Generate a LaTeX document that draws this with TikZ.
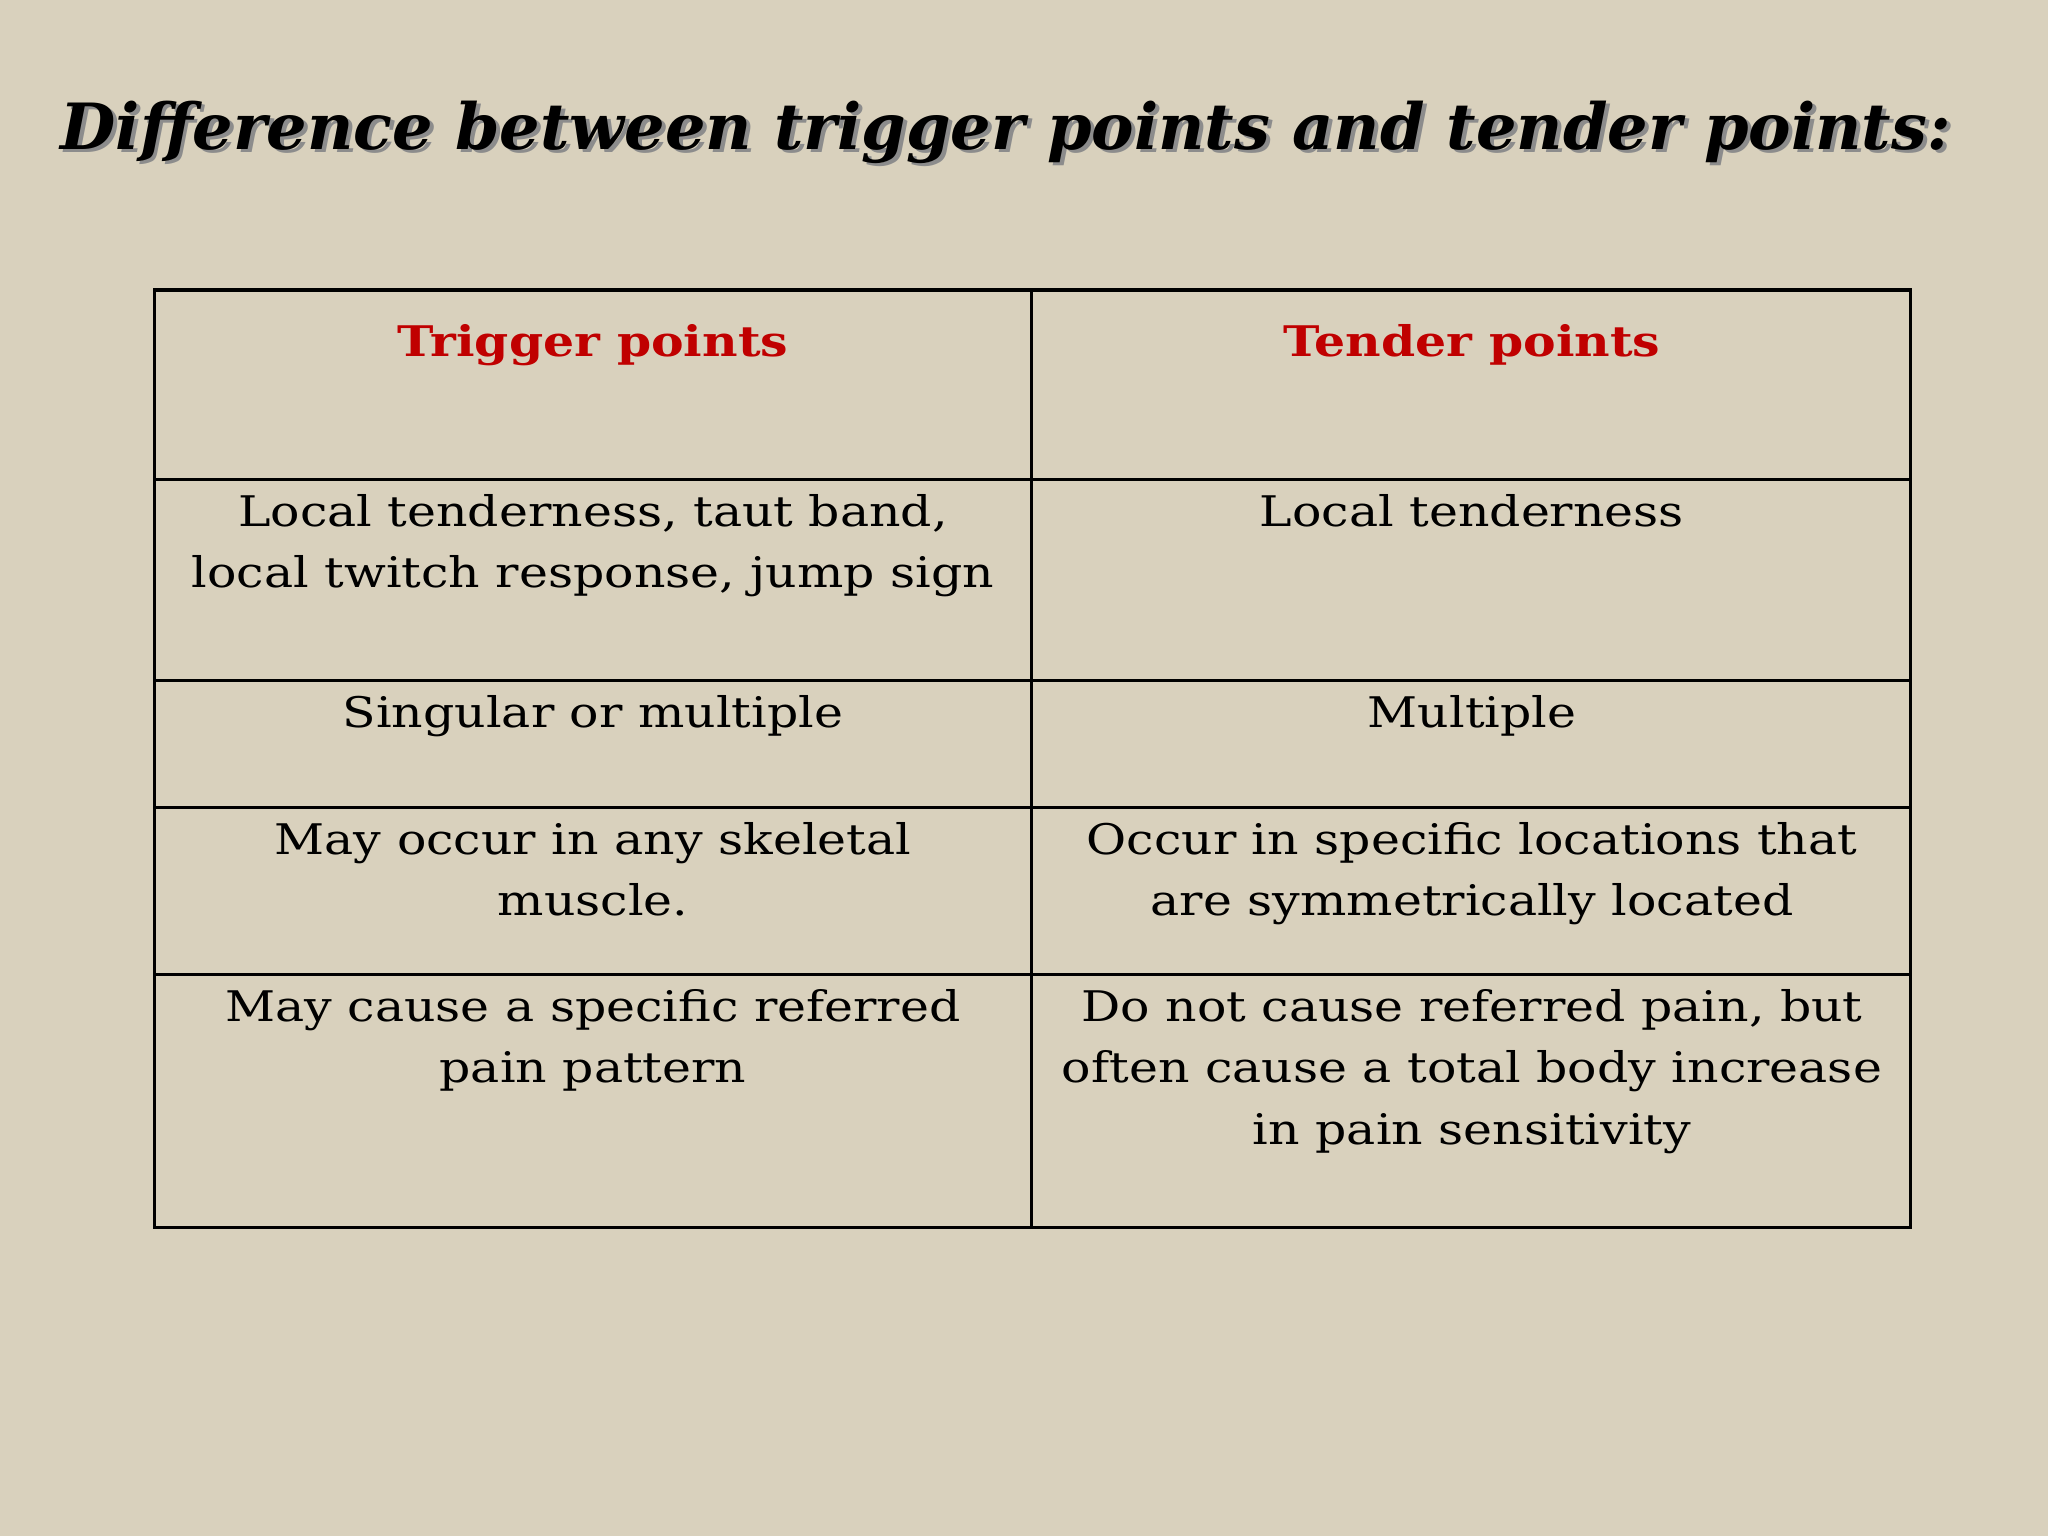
\documentclass[tikz,border=0pt]{standalone}
\usepackage{fontspec}
\usepackage{graphicx}
\setmainfont{DejaVu Serif}
\definecolor{bg}{HTML}{D9D1BD}
\definecolor{hred}{HTML}{C00000}
\newcommand{\wide}[1]{\scalebox{1.16}[1]{\begin{tabular}{@{}c@{}}#1\end{tabular}}}
\begin{document}
\begin{tikzpicture}[x=0.013061cm,y=-0.013061cm,
  cell/.style={anchor=north,align=center,font=\fontsize{12}{17.4}\selectfont,inner sep=0pt},
  head/.style={cell,text=hred,font=\fontsize{12}{17.4}\selectfont\bfseries},
  grid/.style={draw=black,line width=0.9pt}]
\fill[bg] (0,0) rectangle (1568,1176);
\useasboundingbox (0,0) rectangle (1568,1176);
\node[text=black!45] (ts) at (773,104) {\resizebox{18.9cm}{!}{\bfseries\itshape Difference between trigger points and tender points:}};
\node (title) at (770,101) {\resizebox{18.9cm}{!}{\bfseries\itshape Difference between trigger points and tender points:}};
\coordinate (tl) at (118,222); \coordinate (br) at (1463,940);
\draw[grid] (tl) rectangle (br);
\draw[grid] (790,222) -- (790,940);
\foreach \y in {367,521,618,746} \draw[grid] (118,\y) -- (1463,\y);
\node[head] (h1) at (454,240) {\wide{Trigger points}};
\node[head] (h2) at (1127,240) {\wide{Tender points}};
\node[cell] (a1) at (454,370) {\wide{Local tenderness, taut band,\\local twitch response, jump sign}};
\node[cell] (b1) at (1127,370) {\wide{Local tenderness}};
\node[cell] (a2) at (454,524) {\wide{Singular or multiple}};
\node[cell] (b2) at (1127,524) {\wide{Multiple}};
\node[cell] (a3) at (454,621) {\wide{May occur in any skeletal\\muscle.}};
\node[cell] (b3) at (1127,621) {\wide{Occur in specific locations that\\are symmetrically located}};
\node[cell] (a4) at (454,749) {\wide{May cause a specific referred\\pain pattern}};
\node[cell] (b4) at (1127,749) {\wide{Do not cause referred pain, but\\often cause a total body increase\\in pain sensitivity}};
\end{tikzpicture}
\end{document}
